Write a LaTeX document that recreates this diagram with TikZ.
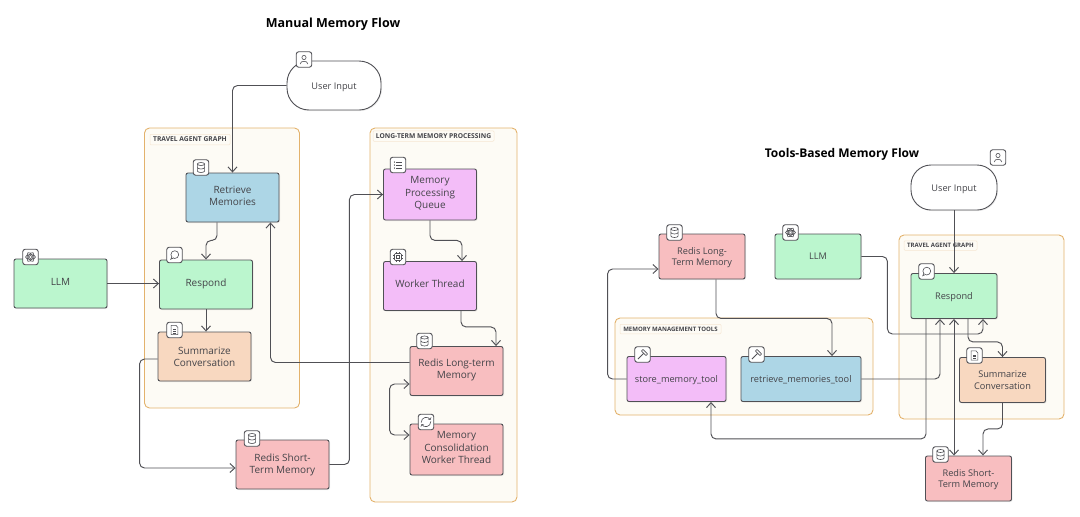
\documentclass[tikz,border=0pt]{standalone}
\usepackage{fontspec}
\setmainfont{Open Sans}
\usetikzlibrary{arrows.meta,shadows}

\definecolor{bluefill}{HTML}{ADD6E6}
\definecolor{greenfill}{HTML}{BBF6CE}
\definecolor{peachfill}{HTML}{F8D8C0}
\definecolor{redisfill}{HTML}{F8BEC0}
\definecolor{purplefill}{HTML}{F3BDF8}
\definecolor{groupfill}{HTML}{FDFBF5}
\definecolor{groupline}{HTML}{E3B26C}
\definecolor{tagline}{HTML}{F6E6D2}
\definecolor{ink}{HTML}{444449}
\definecolor{stroke}{HTML}{505055}

\begin{document}
\begin{tikzpicture}[
            x = 1pt, y = -1pt,
            every node/.style={text depth=0pt, inner sep=0pt, text=ink, align=center},
            line/.style={line width = .95pt, draw=stroke, rounded corners=5pt, -{Straight Barb[length=5pt,width=9pt]}},
            both/.style={line, {Straight Barb[length=5pt,width=9pt]}-{Straight Barb[length=5pt,width=9pt]}},
            box/.style={draw=stroke, line width=.9pt, rounded corners=2pt, minimum width=93pt, minimum height=49pt, text depth=4pt,
                font=\fontsize{10}{12.2}\selectfont, drop shadow={opacity=.15, shadow xshift=1pt, shadow yshift=-1pt}},
            small/.style={box, minimum width=86pt, minimum height=45pt, text depth=0pt, font=\fontsize{9.2}{11.4}\selectfont},
            user/.style={small, fill=white, rounded corners=20pt},
            group/.style={draw=groupline, line width=.9pt, fill=groupfill, rounded corners=5pt},
            tag/.style={draw=tagline, line width=.5pt, fill=groupfill, rounded corners=1pt, font=\fontsize{6.7}{7}\bfseries\selectfont},
            smalltag/.style={tag, font=\fontsize{6.05}{7}\bfseries\selectfont},
            title/.style={font=\fontsize{12.5}{14}\bfseries\selectfont, text=black},
            badge/.style={draw=stroke, line width=.9pt, fill=white, rounded corners=2.5pt, minimum size=15.5pt},
            glyph/.style={draw=stroke, line width=.6pt},
            pics/dbicon/.style={code={
                \draw[glyph] (0,-3.5) ellipse (3.6 and 1.5);
                \draw[glyph] (-3.6,-3.5) -- (-3.6,3.5) arc[start angle=180,end angle=360,x radius=3.6,y radius=-1.5] -- (3.6,-3.5);
                \draw[glyph] (-3.6,0) arc[start angle=180,end angle=360,x radius=3.6,y radius=-1.5];
            }},
            pics/usericon/.style={code={
                \draw[glyph] (0,-2) circle (2.1);
                \draw[glyph] (-3.8,4.6) .. controls (-3.8,0.8) and (3.8,0.8) .. (3.8,4.6);
            }},
            pics/chaticon/.style={code={
                \draw[glyph] (.3,-.4) circle (3.9);
                \draw[glyph,fill=white] (-2.6,1.6) -- (-3.7,4.2) -- (-1,3);
            }},
            pics/docicon/.style={code={
                \draw[glyph] (1.5,-4.6) -- (-3.4,-4.6) -- (-3.4,4.6) -- (3.4,4.6) -- (3.4,-2.6) -- cycle;
                \draw[glyph] (-1.5,-.6) -- (1.5,-.6) (-1.5,1.2) -- (1.5,1.2) (-1.5,3) -- (1.5,3);
            }},
            pics/listicon/.style={code={
                \foreach \lev in {-3,0,3} {
                    \draw[glyph] (-1.6,\lev) -- (4.4,\lev);
                    \fill[stroke] (-3.6,\lev) circle (.6);
                }
            }},
            pics/chipicon/.style={code={
                \draw[glyph,rounded corners=1pt] (-3.5,-3.5) rectangle (3.5,3.5);
                \draw[glyph] (-1.5,-1.5) rectangle (1.5,1.5);
                \foreach \off in {-1.6,1.6} {
                    \draw[glyph] (\off,-5) -- (\off,-3.5) (\off,3.5) -- (\off,5) (-5,\off) -- (-3.5,\off) (3.5,\off) -- (5,\off);
                }
            }},
            pics/syncicon/.style={code={
                \draw[glyph,-{Straight Barb[length=1.6pt,width=3.5pt]}] (-4.8,.6) .. controls (-4.8,-5.4) and (2.4,-6) .. (4.4,-2);
                \draw[glyph,-{Straight Barb[length=1.6pt,width=3.5pt]}] (4.8,-.6) .. controls (4.8,5.4) and (-2.4,6) .. (-4.4,2);
            }},
            pics/hammericon/.style={code={
                \draw[glyph,line width=.9pt] (-4.6,4.6) -- (1.4,-1.4);
                \draw[glyph,fill=white,rounded corners=.5pt] (-1.1,-3.5) -- (.5,-5.1) -- (5.1,-.5) -- (3.5,1.1) -- cycle;
            }},
            pics/llmicon/.style={code={
                \foreach \ang in {0,60,120} {
                    \draw[glyph,rotate=\ang] (0,0) ellipse (5 and 2.4);
                }
                \draw[glyph,line width=.45pt] (0,0) circle (1.6);
            }},
            ]

        % manual memory flow
        \node[title] (titleA) at (333,23) {Manual Memory Flow};

        \node[group, minimum width=155pt, minimum height=280pt] (agentA) at (222,268) {};
        \node[tag, minimum width=80pt, minimum height=10.5pt] (agentTagA) at (190,139.5) {TRAVEL AGENT GRAPH};
        \node[group, minimum width=147pt, minimum height=374pt] (processA) at (443.5,315) {};
        \node[tag, minimum width=121pt, minimum height=10.5pt] (processTagA) at (433.5,136) {LONG-TERM MEMORY PROCESSING};

        \node[user, minimum width=94pt, minimum height=49pt, rounded corners=22pt] (userA) at (334,85.5) {\raisebox{-2pt}{User Input}};
        \node[box, fill=bluefill] (retrieveA) at (232.5,197.5) {Retrieve\\Memories};
        \node[box, fill=greenfill] (respondA) at (206,284.5) {Respond};
        \node[box, fill=peachfill, text depth=0pt] (summA) at (204.5,356.5) {Summarize\\Conversation};
        \node[box, fill=greenfill] (llmA) at (60.5,283.5) {LLM};
        \node[box, fill=redisfill, text depth=1.5pt] (shortA) at (282.5,464.5) {Redis Short-\\Term Memory};
        \node[box, fill=purplefill, minimum height=51pt] (queueA) at (430,194.5) {Memory\\Processing\\Queue};
        \node[box, fill=purplefill] (workerA) at (430,286) {Worker Thread};
        \node[box, fill=redisfill] (longA) at (456.5,371) {Redis Long-term\\Memory};
        \node[box, fill=redisfill, minimum height=51pt] (consA) at (456.5,449.5) {Memory\\Consolidation\\Worker Thread};

        \draw[line] (userA.west) -| (retrieveA.north);
        \draw[line] ([xshift=-15.5pt]retrieveA.south) -- ++(0,18) -| (respondA.north);
        \draw[line] (llmA.east) -- (llmA.east -| respondA.west);
        \draw[line] (respondA.south) -- (respondA.south |- summA.north);
        \draw[line] ([yshift=-2.5pt]summA.west) -- ++(-18,0) |- ([yshift=-3.5pt]shortA.west);
        \draw[line] (shortA.east) -- ++(20,0) |- (queueA.west);
        \draw[line] ([yshift=8.5pt]longA.west) -| ([xshift=38pt]retrieveA.south);
        \draw[line] (queueA.south) -- ++(0,20) -| ([xshift=32pt]workerA.north);
        \draw[line] ([xshift=31pt]workerA.south) -- ++(0,16) -| ([xshift=39.5pt]longA.north);
        \draw[both] ([yshift=-13pt]longA.west) -- ++(-20,0) |- ([yshift=14.5pt]consA.west);

        \node[badge] (iconUserA) at (304,59.5) {}; \pic at (iconUserA) {usericon};
        \node[badge] (iconRetrieveA) at (201,167.5) {}; \pic at (iconRetrieveA) {dbicon};
        \node[badge] (iconRespondA) at (174.5,255) {}; \pic at (iconRespondA) {chaticon};
        \node[badge] (iconSummA) at (174.5,330) {}; \pic at (iconSummA) {docicon};
        \node[badge] (iconLlmA) at (30.5,257) {}; \pic at (iconLlmA) {llmicon};
        \node[badge] (iconShortA) at (252,438.5) {}; \pic at (iconShortA) {dbicon};
        \node[badge] (iconQueueA) at (398,165) {}; \pic at (iconQueueA) {listicon};
        \node[badge] (iconWorkerA) at (398,257) {}; \pic at (iconWorkerA) {chipicon};
        \node[badge] (iconLongA) at (424.5,341) {}; \pic at (iconLongA) {dbicon};
        \node[badge] (iconConsA) at (426,422) {}; \pic at (iconConsA) {syncicon};

        % tools based memory flow
        \node[title, font=\fontsize{12}{14}\bfseries\selectfont] (titleB) at (842,153) {Tools-Based Memory Flow};

        \node[group, minimum width=165pt, minimum height=184pt] (agentB) at (981.5,327) {};
        \node[smalltag, minimum width=73pt, minimum height=9.5pt] (agentTagB) at (940.5,245.5) {TRAVEL AGENT GRAPH};
        \node[group, minimum width=258pt, minimum height=97pt] (toolsB) at (744,366.5) {};
        \node[smalltag, minimum width=101pt, minimum height=9.5pt] (toolsTagB) at (670.5,329) {MEMORY MANAGEMENT TOOLS};

        \node[user] (userB) at (954,187.5) {\raisebox{-1pt}{User Input}};
        \node[small, fill=greenfill] (respondB) at (954,296) {Respond};
        \node[small, fill=peachfill] (summB) at (1002.5,380) {Summarize\\Conversation};
        \node[small, fill=redisfill] (shortB) at (968.5,478.5) {Redis Short-\\Term Memory};
        \node[small, fill=redisfill] (longB) at (702,256.5) {Redis Long-\\Term Memory};
        \node[small, fill=greenfill] (llmB) at (818,256.5) {LLM};
        \node[small, fill=purplefill, minimum width=99pt] (storeB) at (676.5,379) {store\_memory\_tool};
        \node[small, fill=bluefill, minimum width=120pt] (retrB) at (801,379) {retrieve\_memories\_tool};

        \draw[line] (userB.south) -- (respondB.north);
        \draw[line] (llmB.east) -- ++(26,0) -- ++(0,77.5) -| ([xshift=29pt]respondB.south);
        \draw[line] ([xshift=14pt]respondB.south) -- ++(0,23) -| (summB.north);
        \draw[line] (retrB.east) -| ([xshift=-14pt]respondB.south);
        \draw[line] ([xshift=-28pt]respondB.south) -- ++(0,120) -| ([xshift=34.5pt]storeB.south);
        \draw[both] (respondB.south) -- ([xshift=-14.5pt]shortB.north);
        \draw[line] (summB.south) -- ++(0,26) -| ([xshift=14.5pt]shortB.north);
        \draw[line] (storeB.west) -- ++(-19,0) |- ([yshift=-12.5pt]longB.west);
        \draw[line] ([xshift=14pt]longB.south) -- ++(0,39) -| ([xshift=31pt]retrB.north);

        \node[badge] (iconUserB) at (998,157.5) {}; \pic at (iconUserB) {usericon};
        \node[badge] (iconRespondB) at (926.5,271.5) {}; \pic at (iconRespondB) {chaticon};
        \node[badge] (iconSummB) at (974.5,355.5) {}; \pic at (iconSummB) {docicon};
        \node[badge] (iconShortB) at (940.5,454.5) {}; \pic at (iconShortB) {dbicon};
        \node[badge] (iconLongB) at (674.5,232.5) {}; \pic at (iconLongB) {dbicon};
        \node[badge] (iconLlmB) at (790.5,232.5) {}; \pic at (iconLlmB) {llmicon};
        \node[badge] (iconStoreB) at (642.5,354.5) {}; \pic at (iconStoreB) {hammericon};
        \node[badge] (iconRetrB) at (756.5,354.5) {}; \pic at (iconRetrB) {hammericon};

        \useasboundingbox (0,0) rectangle (1080,517);
    \end{tikzpicture}
\end{document}
